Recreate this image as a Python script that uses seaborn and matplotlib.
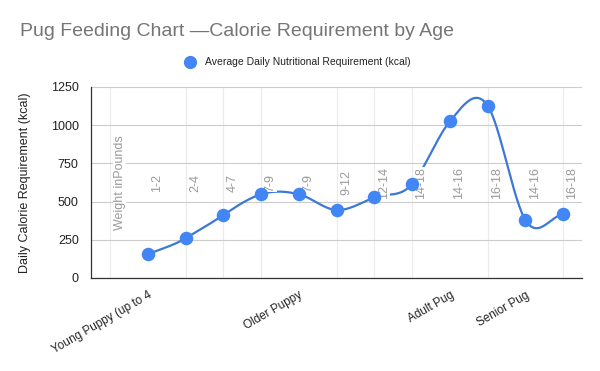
import numpy as np
import matplotlib
matplotlib.use("Agg")
import matplotlib.pyplot as plt
import matplotlib.transforms as mtransforms
import seaborn as sns

# data
weights = ["Weight inPounds", "1-2", "2-4", "4-7", "7-9", "7-9", "9-12",
           "12-14", "14-18", "14-16", "16-18", "14-16", "16-18"]
stages = ["", "Young Puppy (up to 4", "", "", "", "Older Puppy", "", "",
          "", "Adult Pug", "", "Senior Pug", ""]
kcal = [np.nan, 155, 260, 412, 548, 548, 445, 528, 615, 1025, 1128, 380, 418]

blue = "#4285F4"
line_blue = "#3c78d8"

sns.set_style("white")
plt.rcParams["font.family"] = ["Liberation Sans", "DejaVu Sans"]

fig = plt.figure(figsize=(6, 3.71), dpi=100)
ax = fig.add_axes([0.152, 0.2507, 0.818, 0.5148])

# smooth curve (cardinal spline through the points, like the sheets chart)
xs = np.array([i for i, v in enumerate(kcal) if not np.isnan(v)], dtype=float)
ys = np.array([v for v in kcal if not np.isnan(v)], dtype=float)
m = np.zeros_like(ys)
m[1:-1] = (ys[2:] - ys[:-2]) / 2 * 1.15
m[0] = (ys[1] - ys[0])
m[-1] = (ys[-1] - ys[-2])
cx, cy = [], []
for i in range(len(xs) - 1):
    t = np.linspace(0, 1, 30)
    h00 = 2 * t**3 - 3 * t**2 + 1
    h10 = t**3 - 2 * t**2 + t
    h01 = -2 * t**3 + 3 * t**2
    h11 = t**3 - t**2
    cx.extend(xs[i] + t)
    cy.extend(h00 * ys[i] + h10 * m[i] + h01 * ys[i + 1] + h11 * m[i + 1])
sns.lineplot(x=cx, y=cy, ax=ax, color=line_blue, linewidth=1.6, zorder=3,
             sort=False, estimator=None)
sns.scatterplot(x=xs, y=ys, ax=ax, color=blue, s=95, edgecolor=blue,
                linewidth=0, zorder=5)

for i, w in enumerate(weights):
    ax.text(i + 0.25, 622, w, rotation=90, ha="center", va="center",
            fontsize=9, color="#9a9a9a", zorder=4,
            bbox=dict(facecolor="white", edgecolor="none", pad=0.3))

ax.set_xlim(-0.5, 12.5)
ax.set_ylim(0, 1250)
ax.set_yticks([0, 250, 500, 750, 1000, 1250])
ax.set_xticks(range(len(weights)), minor=True)
tick_pos = [i for i, s in enumerate(stages) if s]
ax.set_xticks(tick_pos)
ax.set_xticklabels([stages[i] for i in tick_pos], rotation=30, ha="right",
                   rotation_mode="anchor", fontsize=8.5, color="#222222")
shift = mtransforms.ScaledTranslation(-8 / 100, 0, fig.dpi_scale_trans)
for lab in ax.get_xticklabels():
    lab.set_transform(lab.get_transform() + shift)
ax.tick_params(axis="x", which="major", length=3, color="#333333", pad=5)
ax.tick_params(axis="x", which="minor", length=0)
ax.tick_params(axis="y", length=6, color="#333333", labelsize=9,
               labelcolor="#222222", pad=3)

ax.grid(axis="y", color="#cccccc", linewidth=0.8)
ax.grid(axis="x", which="minor", color="#ebebeb", linewidth=0.8)
ax.set_axisbelow(True)
for s in ["top", "right"]:
    ax.spines[s].set_visible(False)
ax.spines["left"].set_color("#333333")
ax.spines["bottom"].set_color("#333333")
ax.spines["left"].set_linewidth(0.9)
ax.spines["bottom"].set_linewidth(0.9)

ax.set_ylabel("Daily Calorie Requirement (kcal)", fontsize=9,
              color="#222222", labelpad=14)

fig.text(20 / 600, 1 - 32 / 371, "Pug Feeding Chart \u2014Calorie Requirement by Age",
         fontsize=14, color="#757575", va="center", ha="left")
fig.lines.append(plt.Line2D([190 / 600], [1 - 62 / 371], transform=fig.transFigure,
                            marker="o", markersize=8.5, color=blue, linestyle="none"))
fig.text(205 / 600, 1 - 62 / 371, "Average Daily Nutritional Requirement (kcal)",
         fontsize=7.5, color="#222222", va="center", ha="left")

fig.savefig("out.png", dpi=100)
